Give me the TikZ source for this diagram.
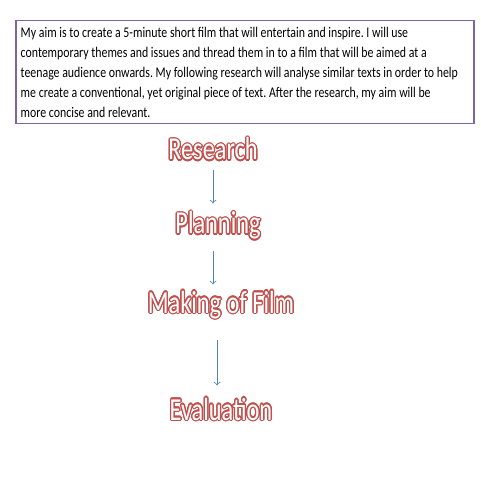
\documentclass[tikz,border=0pt]{standalone}
\usepackage{fontspec}
\usepackage{contour}
\setmainfont{Carlito}
\newfontfamily\bodyfont[FakeStretch=0.8]{Carlito}
\newfontfamily\stagefont[FakeStretch=0.76]{Carlito}
\usetikzlibrary{calc}
\definecolor{framepurple}{RGB}{128,100,162}
\definecolor{wordred}{RGB}{192,80,77}
\definecolor{arrowblue}{RGB}{79,129,189}
\contourlength{0.65pt}
\newcommand{\outlineword}[1]{\contour{wordred}{\textcolor{white}{#1}}}
\frenchspacing

\begin{document}
\begin{tikzpicture}[x=0.5pt,y=-0.5pt,
    aimbox/.style={draw=framepurple,line width=0.75pt,anchor=north west,
      minimum width=227.5pt,minimum height=51.5pt,text width=224pt,
      inner xsep=2.5pt,inner ysep=0pt,align=flush left,
      font=\bodyfont\fontsize{7.4}{10}\selectfont},
    stage/.style={anchor=base,inner sep=0pt,font=\stagefont\fontsize{16}{18}\selectfont},
    flow/.style={->,draw=arrowblue,line width=0.4pt}]
  \useasboundingbox[fill=white] (0,0) rectangle (480,480);
  % aim
  \node[aimbox] (aim) at (15,20) {My aim is to create a 5-minute short film that will entertain and inspire. I will use\\
    contemporary themes and issues and thread them in to a film that will be aimed at a\\
    teenage audience onwards. My following research will analyse similar texts in order to help\\
    me create a conventional, yet original piece of text. After the research, my aim will be\\
    more concise and relevant.};
  % stages
  \node[stage] (research) at (213,160) {\outlineword{Research}};
  \node[stage] (planning) at (218,234) {\outlineword{Planning}};
  \node[stage] (making) at (221,313) {\outlineword{Making of Film}};
  \node[stage] (evaluation) at (221,420) {\outlineword{Evaluation}};
  % arrows
  \draw[flow,shorten <=4pt,shorten >=4pt] (research.south) -- (research.south |- planning.north);
  \draw[flow,shorten <=5pt,shorten >=3pt] ([xshift=-2.5pt]planning.south) -- ([xshift=-2.5pt]planning.south |- making.north);
  \draw[flow,shorten <=10pt,shorten >=6pt] ([xshift=-2pt]making.south) -- ([xshift=-2pt]making.south |- evaluation.north);
\end{tikzpicture}
\end{document}
